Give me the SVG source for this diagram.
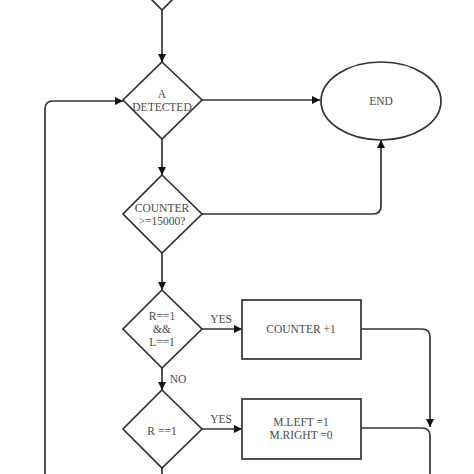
<svg xmlns="http://www.w3.org/2000/svg" width="474" height="474" viewBox="0 0 474 474">
<defs>
<marker id="ah" viewBox="0 0 10 10" refX="10" refY="5" markerWidth="8" markerHeight="8" markerUnits="userSpaceOnUse" orient="auto">
<path d="M0,0 L10,5 L0,10 Z" fill="#111"/>
</marker>
</defs>
<style>
.shape{fill:#fff;stroke:#333;stroke-width:1.7}
.con{fill:none;stroke:#333;stroke-width:1.7}
.t{font-family:"Liberation Serif","Times New Roman",serif;font-size:11.5px;fill:#4a4a4a;text-anchor:middle;dominant-baseline:middle}
</style>
<rect width="474" height="474" fill="#fff"/>
<g id="connectors">
<path class="con" d="M162,10 V62" marker-end="url(#ah)"/>
<path class="con" d="M202,100 H320" marker-end="url(#ah)"/>
<path class="con" d="M162,139 V175" marker-end="url(#ah)"/>
<path class="con" d="M202,214 H373 Q381,214 381,206 V140" marker-end="url(#ah)"/>
<path class="con" d="M162,253 V290" marker-end="url(#ah)"/>
<path class="con" d="M202,329 H242" marker-end="url(#ah)"/>
<path class="con" d="M162,368 V390" marker-end="url(#ah)"/>
<path class="con" d="M202,429 H242" marker-end="url(#ah)"/>
<path class="con" d="M162,468 V474"/>
<path class="con" d="M361,329 H422 Q430,329 430,337 V427" marker-end="url(#ah)"/>
<path class="con" d="M361,428 H422 Q430,428 430,436 V474"/>
<path class="con" d="M45,474 V109 Q45,101 53,101 H123" marker-end="url(#ah)"/>
<text class="t" x="221" y="320">YES</text>
<text class="t" x="221" y="420">YES</text>
<text class="t" x="178" y="380">NO</text>
</g>
<g id="top-decision">
<path class="shape" d="M162,-68 L201,-29 L162,10 L123,-29 Z"/>
</g>
<g id="a-detected">
<path class="shape" d="M162,62 L202,100 L162,139 L123,100 Z"/>
<text class="t" x="162" y="95">A</text>
<text class="t" x="162" y="108">DETECTED</text>
</g>
<g id="end">
<ellipse class="shape" cx="381" cy="101" rx="60" ry="39"/>
<text class="t" x="381" y="102">END</text>
</g>
<g id="counter-check">
<path class="shape" d="M162,175 L202,214 L162,253 L123,214 Z"/>
<text class="t" x="162" y="209">COUNTER</text>
<text class="t" x="162" y="222">&gt;=15000?</text>
</g>
<g id="rl-check">
<path class="shape" d="M162,290 L202,329 L162,368 L123,329 Z"/>
<text class="t" x="162" y="317">R==1</text>
<text class="t" x="162" y="330">&amp;&amp;</text>
<text class="t" x="162" y="343">L==1</text>
</g>
<g id="counter-inc">
<rect class="shape" x="242" y="300" width="119" height="59"/>
<text class="t" x="301" y="330">COUNTER +1</text>
</g>
<g id="r-check">
<path class="shape" d="M162,390 L202,429 L162,468 L123,429 Z"/>
<text class="t" x="162" y="432">R ==1</text>
</g>
<g id="motor-set">
<rect class="shape" x="242" y="399" width="119" height="60"/>
<text class="t" x="301" y="423">M.LEFT =1</text>
<text class="t" x="301" y="436">M.RIGHT =0</text>
</g>
</svg>
